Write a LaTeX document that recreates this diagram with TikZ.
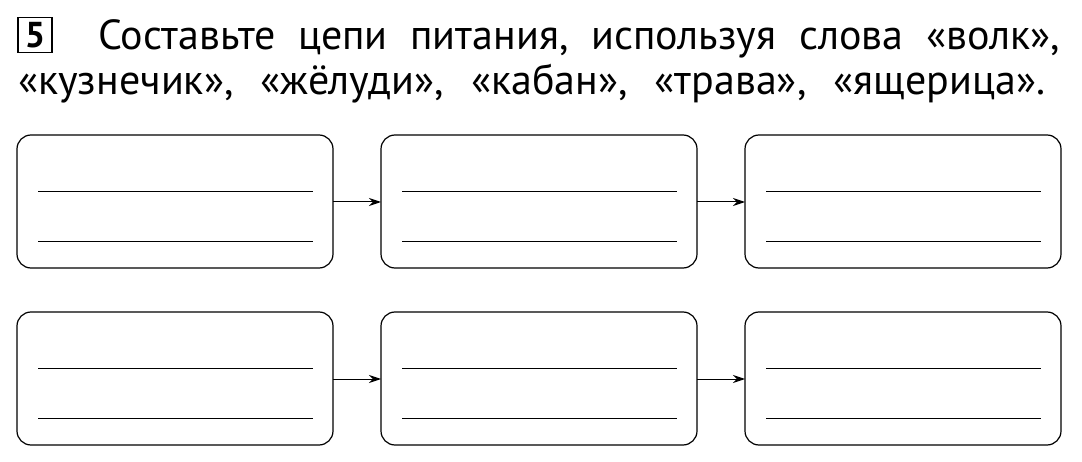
\documentclass[tikz,border=0pt]{standalone}
\usepackage{fontspec}
\usetikzlibrary{arrows.meta}
\setmainfont{PT Sans}
\begin{document}
\begin{tikzpicture}[x=1pt,y=-1pt,
  cbox/.style={draw,line width=1.2pt,rounded corners=14pt},
  wline/.style={line width=0.9pt},
  arr/.style={-{Stealth[length=12pt,width=8pt]},line width=1pt}]
\useasboundingbox (0,0) rectangle (1082,462);
\node[draw,line width=1.8pt,minimum width=34pt,minimum height=35pt,inner sep=0pt,font=\fontsize{36}{36}\selectfont\bfseries] (num) at (35,35) {5};
\node[anchor=base west,inner sep=0pt,font=\fontsize{42}{42}\selectfont] (l1) at (98,50) {\hbox to 962pt{Составьте\hfill цепи\hfill питания,\hfill используя\hfill слова\hfill «волк»,}};
\node[anchor=base west,inner sep=0pt,font=\fontsize{42}{42}\selectfont] (l2) at (18,95) {\hbox to 1027pt{«кузнечик»,\hfill «жёлуди»,\hfill «кабан»,\hfill «трава»,\hfill «ящерица».}};
\foreach \r/\y in {1/135,2/312}{
  \foreach \c/\x in {1/17,2/381,3/745}{
    \draw[cbox] (\x,\y) rectangle ++(316,133);
    \coordinate (b\r\c w) at (\x,\y+67);
    \coordinate (b\r\c e) at (\x+316,\y+67);
    \draw[wline] (\x+21,\y+56) -- ++(275,0);
    \draw[wline] (\x+21,\y+106) -- ++(275,0);
  }
  \draw[arr] (b\r1e) -- (b\r2w);
  \draw[arr] (b\r2e) -- (b\r3w);
}
\end{tikzpicture}
\end{document}
